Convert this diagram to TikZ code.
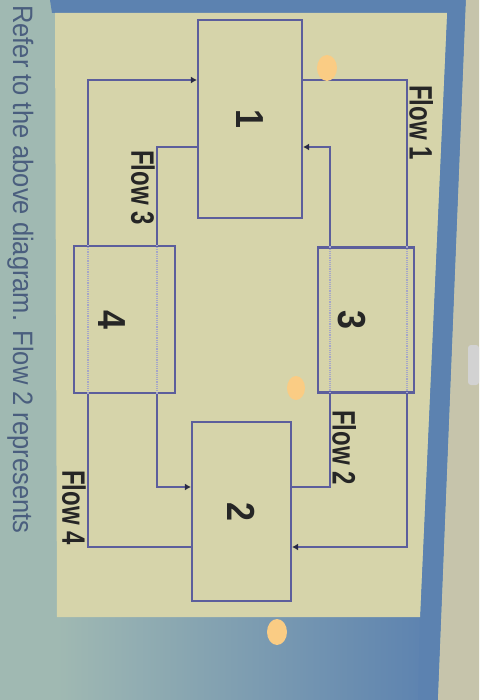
\documentclass[tikz,border=0pt]{standalone}
\usepackage{fontspec}
\setmainfont{Liberation Sans}
\usepackage{graphicx}
\usetikzlibrary{arrows.meta, positioning}
\definecolor{panel}{RGB}{214,212,170}
\definecolor{screen}{RGB}{160,185,178}
\definecolor{frameblue}{RGB}{92,130,176}
\definecolor{bezel}{RGB}{198,196,171}
\definecolor{ink}{RGB}{92,94,156}
\definecolor{glare}{RGB}{250,204,132}
\definecolor{question}{RGB}{74,94,126}
\tikzstyle{box} = [rectangle, draw=ink, line width=2.2pt, fill=panel, inner sep=0pt]
\newcommand{\boxnum}[1]{\rotatebox{-90}{\scalebox{1}[1.15]{#1}}}
\newcommand{\flowtext}[1]{\scalebox{1}[1.35]{#1}}

\begin{document}
\begin{tikzpicture}[
        x=1pt, y=-1pt,
        box/.style={rectangle, draw=ink, line width=2.2pt, fill=panel, inner sep=0pt,
                    font=\fontsize{34}{34}\selectfont\bfseries, text=black!85},
        flow/.style={draw=ink, line width=2pt, -{Latex[length=6pt,width=7pt,color=ink!45!black]}},
        hidden/.style={draw=ink!55, line width=1.2pt, densely dotted},
        flowlabel/.style={rotate=-90, inner sep=1pt,
                          font=\fontsize{24}{24}\selectfont\bfseries, text=black!85},
        spot/.style={fill=glare}
    ]
        % Screen background
        \useasboundingbox (0,0) rectangle (479,700);
        \fill[screen] (0,0) rectangle (479,700);
        \shade[left color=screen, right color=frameblue] (57,617) rectangle (432,700);
        \fill[frameblue] (50,0) -- (466,0) -- (438,700) -- (418,700) -- (420,617) -- (447,13) -- (52,13) -- cycle;
        \fill[bezel] (466,0) -- (479,0) -- (479,700) -- (438,700) -- cycle;
        \fill[gray!35, rounded corners=3pt] (468,345) rectangle (479,385);
        \fill[panel] (55,13) -- (447,13) -- (420,617) -- (57,617) -- cycle;

        % Question text
        \node[rotate=-90, anchor=base west, inner sep=0pt, text=question,
              font=\fontsize{25.5}{25.5}\selectfont] (question) at (13,5)
              {\scalebox{1}[1.1]{Refer to the above diagram. Flow 2 represents}};

        % Boxes 1 and 2
        \node[box, minimum width=104, minimum height=198] (box1) at (250,119) {\boxnum{1}};
        \node[box, minimum width=99, minimum height=179] (box2) at (241.5,511.5) {\boxnum{2}};

        % Corners of the flows
        \coordinate (c1a) at (407,80);
        \coordinate (c1b) at (407,547);
        \coordinate (c2a) at (330,487);
        \coordinate (c2b) at (330,147);
        \coordinate (c3a) at (157,147);
        \coordinate (c3b) at (157,487);
        \coordinate (c4a) at (88,547);
        \coordinate (c4b) at (88,80);

        % Flows
        \draw[flow] (box1.east |- c1a) -- (c1a) -- (c1b) -- (box2.east |- c1b);
        \draw[flow] (box2.east |- c2a) -- (c2a) -- (c2b) -- (box1.east |- c2b);
        \draw[flow] (box1.west |- c3a) -- (c3a) -- (c3b) -- (box2.west |- c3b);
        \draw[flow] (box2.west |- c4a) -- (c4a) -- (c4b) -- (box1.west |- c4b);

        % Boxes 3 and 4 (on top of the flows)
        \node[box, minimum width=96, minimum height=145,
              label={[xshift=-14pt, font=\fontsize{34}{34}\selectfont\bfseries, text=black!85]center:\boxnum{3}}]
              (box3) at (366,320) {};
        \node[box, minimum width=101, minimum height=147,
              label={[xshift=-13pt, font=\fontsize{34}{34}\selectfont\bfseries, text=black!85]center:\boxnum{4}}]
              (box4) at (124.5,319.5) {};
        \draw[hidden] (c1a |- box3.north) -- (c1a |- box3.south);
        \draw[hidden] (c2a |- box3.north) -- (c2a |- box3.south);
        \draw[hidden] (c3a |- box4.north) -- (c3a |- box4.south);
        \draw[hidden] (c4a |- box4.north) -- (c4a |- box4.south);

        % Flow labels
        \node[flowlabel, anchor=south west] (lab1) at (408,84) {\flowtext{Flow 1}};
        \node[flowlabel, anchor=south east] (lab2) at (331,486) {\flowtext{Flow 2}};
        \node[flowlabel, anchor=north west] (lab3) at (156,149) {\flowtext{Flow 3}};
        \node[flowlabel, anchor=north east] (lab4) at (87,546) {\flowtext{Flow 4}};

        % Glare spots
        \fill[spot] (327,68) ellipse [x radius=10, y radius=13];
        \fill[spot] (296,388) ellipse [x radius=9, y radius=12];
        \fill[spot] (277,632) ellipse [x radius=10, y radius=13];
    \end{tikzpicture}
\end{document}
